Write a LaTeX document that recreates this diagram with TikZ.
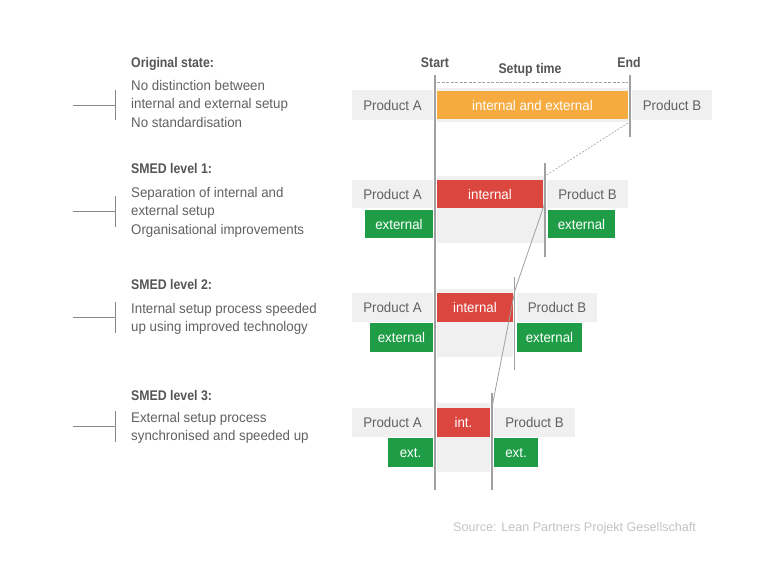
\documentclass[tikz,border=0pt]{standalone}
\usepackage{fontspec}
\setmainfont{Liberation Sans}[FakeStretch=0.95]
\newfontfamily\headfont{Liberation Sans}[FakeStretch=0.88]
\newfontfamily\srcfont{Liberation Sans}
\definecolor{boxgray}{HTML}{F0F0F0}
\definecolor{txtgray}{HTML}{616161}
\definecolor{headgray}{HTML}{555555}
\definecolor{linegray}{HTML}{A0A0A0}
\definecolor{brgray}{HTML}{888888}
\definecolor{orangec}{HTML}{F5AB40}
\definecolor{redc}{HTML}{DB463E}
\definecolor{greenc}{HTML}{1F9D46}
\definecolor{srcgray}{HTML}{C4C4C4}
\tikzset{
  basebox/.style={inner sep=0pt, text height=10pt, text depth=0pt, font=\fontsize{14}{17}\selectfont},
  pbox/.style={basebox, fill=boxgray, text=txtgray},
  strip/.style={fill=boxgray, inner sep=0pt},
  obox/.style={basebox, fill=orangec, text=white},
  rbox/.style={basebox, fill=redc, text=white},
  gbox/.style={basebox, fill=greenc, text=white},
  head/.style={anchor=base west, inner sep=0pt, text=headgray, font=\headfont\bfseries\fontsize{14}{17}\selectfont},
  body/.style={anchor=base west, inner sep=0pt, text=txtgray, font=\fontsize{14}{17}\selectfont},
  tlab/.style={anchor=base, inner sep=0pt, text=headgray, font=\headfont\bfseries\fontsize{14}{17}\selectfont},
  vline/.style={draw=linegray, line width=1.3pt},
  bracket/.style={draw=brgray, line width=0.8pt},
  conn/.style={draw=linegray, line width=0.8pt},
}
\begin{document}
\begin{tikzpicture}[x=1pt,y=-1pt]
\useasboundingbox[fill=white] (0,0) rectangle (768,584);

% ---- left texts ----
\node[head] (h0) at (131,67) {Original state:};
\node[body] (t0a) at (131,90) {No distinction between};
\node[body] (t0b) at (131,108.5) {internal and external setup};
\node[body] (t0c) at (131,127) {No standardisation};

\node[head] (h1) at (131,173) {SMED level 1:};
\node[body] (t1a) at (131,197) {Separation of internal and};
\node[body] (t1b) at (131,215.5) {external setup};
\node[body] (t1c) at (131,234) {Organisational improvements};

\node[head] (h2) at (131,289) {SMED level 2:};
\node[body] (t2a) at (131,313) {Internal setup process speeded};
\node[body] (t2b) at (131,331.5) {up using improved technology};

\node[head] (h3) at (131,400) {SMED level 3:};
\node[body] (t3a) at (131,422) {External setup process};
\node[body] (t3b) at (131,440.5) {synchronised and speeded up};

% brackets
\coordinate (b0a) at (73,105); \coordinate (b0b) at (115,105);
\coordinate (b0c) at (115,90); \coordinate (b0d) at (115,120);
\draw[bracket] (b0a) -- (b0b); \draw[bracket] (b0c) -- (b0d);
\coordinate (b1a) at (73,211); \coordinate (b1b) at (115,211);
\coordinate (b1c) at (115,196); \coordinate (b1d) at (115,227);
\draw[bracket] (b1a) -- (b1b); \draw[bracket] (b1c) -- (b1d);
\coordinate (b2a) at (73,317); \coordinate (b2b) at (115,317);
\coordinate (b2c) at (115,302); \coordinate (b2d) at (115,333);
\draw[bracket] (b2a) -- (b2b); \draw[bracket] (b2c) -- (b2d);
\coordinate (b3a) at (73,426); \coordinate (b3b) at (115,426);
\coordinate (b3c) at (115,411); \coordinate (b3d) at (115,442);
\draw[bracket] (b3a) -- (b3b); \draw[bracket] (b3c) -- (b3d);

% ---- top labels ----
\node[tlab] (start) at (435,67) {Start};
\node[tlab] (end) at (629,67) {End};
\node[tlab] (setup) at (530,73) {Setup time};
\coordinate (da) at (437,82); \coordinate (db) at (628,82);
\draw[conn, dash pattern=on 3pt off 1.5pt, line width=0.6pt] (da) -- (db);

% ---- row 0 ----
\node[pbox, minimum width=81pt, minimum height=30pt] (a0) at (392.5,105) {Product A};
\node[strip, minimum width=191pt, minimum height=34pt] (s0) at (532.5,105) {};
\node[obox, minimum width=191pt, minimum height=28pt] (o0) at (532.5,105) {internal and external};
\node[pbox, minimum width=80pt, minimum height=30pt] (pb0) at (672,105) {Product B};

% ---- row 1 ----
\node[strip, minimum width=107pt, minimum height=67pt] (s1) at (490.5,209.5) {};
\node[pbox, minimum width=81pt, minimum height=28pt] (a1) at (392.5,194) {Product A};
\node[rbox, minimum width=106pt, minimum height=28pt] (r1) at (490,194) {internal};
\node[pbox, minimum width=81pt, minimum height=28pt] (pb1) at (587.5,194) {Product B};
\node[gbox, minimum width=68pt, minimum height=28pt] (gl1) at (399,224) {external};
\node[gbox, minimum width=67pt, minimum height=28pt] (gr1) at (581.5,224) {external};

% ---- row 2 ----
\node[strip, minimum width=76pt, minimum height=68pt] (s2) at (475,323) {};
\node[pbox, minimum width=81pt, minimum height=29pt] (a2) at (392.5,307.5) {Product A};
\node[rbox, minimum width=76pt, minimum height=29pt] (r2) at (475,307.5) {internal};
\node[pbox, minimum width=80pt, minimum height=29pt] (pb2) at (557,307.5) {Product B};
\node[gbox, minimum width=63pt, minimum height=29pt] (gl2) at (401.5,337.5) {external};
\node[gbox, minimum width=65pt, minimum height=29pt] (gr2) at (549.5,337.5) {external};

% ---- row 3 ----
\node[strip, minimum width=53pt, minimum height=69pt] (s3) at (463.5,437.5) {};
\node[pbox, minimum width=81pt, minimum height=29pt] (a3) at (392.5,422.5) {Product A};
\node[rbox, minimum width=53pt, minimum height=29pt] (r3) at (463.5,422.5) {int.};
\node[pbox, minimum width=81pt, minimum height=29pt] (pb3) at (534.5,422.5) {Product B};
\node[gbox, minimum width=45pt, minimum height=29pt] (gl3) at (410.5,452.5) {ext.};
\node[gbox, minimum width=44pt, minimum height=29pt] (gr3) at (516,452.5) {ext.};

% ---- vertical lines ----
\coordinate (st0) at (435,75); \coordinate (st1) at (435,490);
\draw[vline] (st0) -- (st1);
\coordinate (e0a) at (630,75); \coordinate (e0b) at (630,137);
\draw[vline] (e0a) -- (e0b);
\coordinate (e1a) at (545,163); \coordinate (e1b) at (545,257);
\draw[vline] (e1a) -- (e1b);
\coordinate (e2a) at (514.5,277); \coordinate (e2b) at (514.5,370);
\draw[vline] (e2a) -- (e2b);
\coordinate (e3a) at (492,393); \coordinate (e3b) at (492,490);
\draw[vline] (e3a) -- (e3b);

% ---- connectors ----
\coordinate (c0) at (628,123); \coordinate (c1) at (546.5,175);
\draw[conn, dash pattern=on 2pt off 1.5pt, line width=0.6pt] (c0) -- (c1);
\coordinate (c2) at (544.5,204); \coordinate (c3) at (515,290);
\draw[conn] (c2) -- (c3);
\coordinate (c4) at (492,407);
\draw[conn] (c3) -- (c4);

% ---- source ----
\node[anchor=base west, inner sep=0pt, text=srcgray, font=\srcfont\fontsize{12.6}{14}\selectfont] (src) at (453,531) {Source: Lean Partners Projekt Gesellschaft};
\end{tikzpicture}
\end{document}
